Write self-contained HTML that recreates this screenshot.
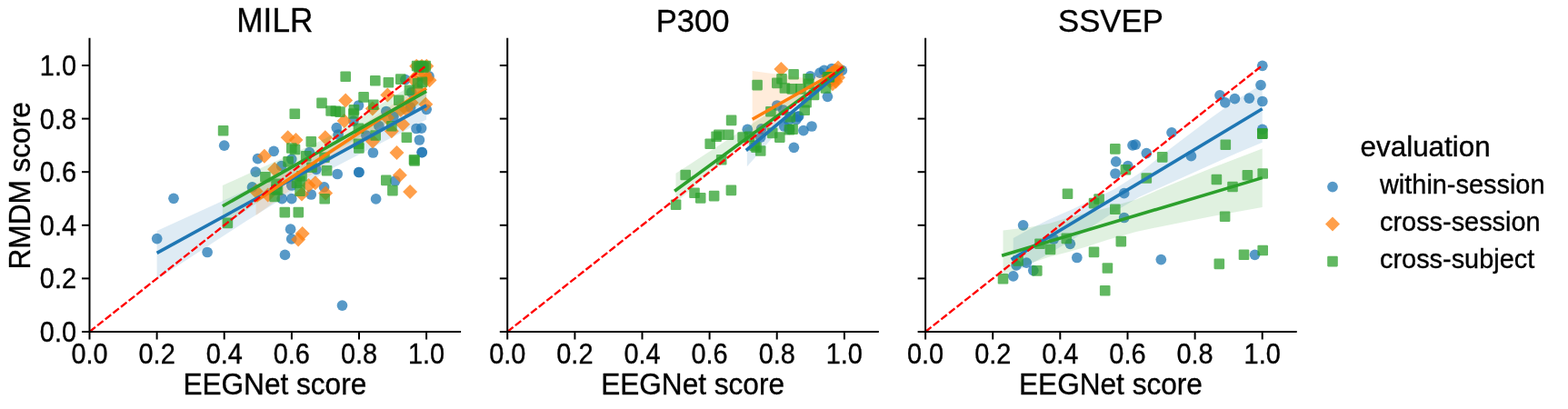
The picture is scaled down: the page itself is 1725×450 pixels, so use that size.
<!DOCTYPE html>
<html lang="en"><head><meta charset="utf-8"><title>RMDM vs EEGNet score</title>
<style>html,body{margin:0;padding:0;background:#fff}body{width:1725px;height:450px;overflow:hidden}svg{display:block}</style>
</head><body>
<svg width="1725" height="450" viewBox="0 0 1725 450" font-family='"Liberation Sans", sans-serif'>
<rect width="1725" height="450" fill="#fff"/>
<g>
<circle cx="172.7" cy="262.6" r="5.85" fill="#1f77b4" fill-opacity="0.75"/>
<circle cx="191.0" cy="218.3" r="5.85" fill="#1f77b4" fill-opacity="0.75"/>
<circle cx="228.1" cy="277.5" r="5.85" fill="#1f77b4" fill-opacity="0.75"/>
<circle cx="319.6" cy="252.2" r="5.85" fill="#1f77b4" fill-opacity="0.75"/>
<circle cx="320.7" cy="262.8" r="5.85" fill="#1f77b4" fill-opacity="0.75"/>
<circle cx="313.5" cy="280.4" r="5.85" fill="#1f77b4" fill-opacity="0.75"/>
<circle cx="376.5" cy="336.1" r="5.85" fill="#1f77b4" fill-opacity="0.75"/>
<circle cx="246.7" cy="160.2" r="5.85" fill="#1f77b4" fill-opacity="0.75"/>
<circle cx="301.2" cy="166.3" r="5.85" fill="#1f77b4" fill-opacity="0.75"/>
<circle cx="283.5" cy="174.7" r="5.85" fill="#1f77b4" fill-opacity="0.75"/>
<circle cx="281.2" cy="189.1" r="5.85" fill="#1f77b4" fill-opacity="0.75"/>
<circle cx="277.5" cy="205.9" r="5.85" fill="#1f77b4" fill-opacity="0.75"/>
<circle cx="370.3" cy="140.6" r="5.85" fill="#1f77b4" fill-opacity="0.75"/>
<circle cx="372.1" cy="148.0" r="5.85" fill="#1f77b4" fill-opacity="0.75"/>
<circle cx="410.4" cy="168.0" r="5.85" fill="#1f77b4" fill-opacity="0.75"/>
<circle cx="371.2" cy="191.5" r="5.85" fill="#1f77b4" fill-opacity="0.75"/>
<circle cx="394.9" cy="189.5" r="5.85" fill="#1f77b4" fill-opacity="0.75"/>
<circle cx="394.9" cy="189.5" r="5.85" fill="#1f77b4" fill-opacity="0.75"/>
<circle cx="356.6" cy="205.9" r="5.85" fill="#1f77b4" fill-opacity="0.75"/>
<circle cx="458.0" cy="141.5" r="5.85" fill="#1f77b4" fill-opacity="0.75"/>
<circle cx="463.6" cy="141.1" r="5.85" fill="#1f77b4" fill-opacity="0.75"/>
<circle cx="461.4" cy="154.0" r="5.85" fill="#1f77b4" fill-opacity="0.75"/>
<circle cx="464.2" cy="167.6" r="5.85" fill="#1f77b4" fill-opacity="0.75"/>
<circle cx="464.2" cy="167.6" r="5.85" fill="#1f77b4" fill-opacity="0.75"/>
<circle cx="434.7" cy="199.0" r="5.85" fill="#1f77b4" fill-opacity="0.75"/>
<circle cx="340.4" cy="167.6" r="5.85" fill="#1f77b4" fill-opacity="0.75"/>
<circle cx="320.8" cy="175.1" r="5.85" fill="#1f77b4" fill-opacity="0.75"/>
<circle cx="309.6" cy="182.6" r="5.85" fill="#1f77b4" fill-opacity="0.75"/>
<circle cx="347.9" cy="186.3" r="5.85" fill="#1f77b4" fill-opacity="0.75"/>
<circle cx="388.9" cy="133.1" r="5.85" fill="#1f77b4" fill-opacity="0.75"/>
<circle cx="416.9" cy="138.7" r="5.85" fill="#1f77b4" fill-opacity="0.75"/>
<circle cx="402.9" cy="149.0" r="5.85" fill="#1f77b4" fill-opacity="0.75"/>
<circle cx="320.8" cy="204.0" r="5.85" fill="#1f77b4" fill-opacity="0.75"/>
<circle cx="413.6" cy="218.9" r="5.85" fill="#1f77b4" fill-opacity="0.75"/>
<circle cx="342.3" cy="214.0" r="5.85" fill="#1f77b4" fill-opacity="0.75"/>
<circle cx="320.8" cy="218.7" r="5.85" fill="#1f77b4" fill-opacity="0.75"/>
<circle cx="310.2" cy="218.7" r="5.85" fill="#1f77b4" fill-opacity="0.75"/>
<circle cx="394.5" cy="116.0" r="5.85" fill="#1f77b4" fill-opacity="0.75"/>
<circle cx="445.9" cy="87.6" r="5.85" fill="#1f77b4" fill-opacity="0.75"/>
<circle cx="469.2" cy="120.3" r="5.85" fill="#1f77b4" fill-opacity="0.75"/>
<circle cx="424.9" cy="122.5" r="5.85" fill="#1f77b4" fill-opacity="0.75"/>
<circle cx="432.9" cy="128.4" r="5.85" fill="#1f77b4" fill-opacity="0.75"/>
<circle cx="451.6" cy="118.2" r="5.85" fill="#1f77b4" fill-opacity="0.75"/>
<circle cx="452.7" cy="101.7" r="5.85" fill="#1f77b4" fill-opacity="0.75"/>
<circle cx="472.0" cy="83.9" r="5.85" fill="#1f77b4" fill-opacity="0.75"/>
<path d="M172.6,254.0 L270.1,209.7 L357.9,167.2 L469.1,101.3 L469.1,131.5 L357.9,189.2 L270.1,243.7 L172.6,307.3Z" fill="#1f77b4" fill-opacity="0.15"/>
<path d="M328.1,255.6 L336.1,263.6 L328.1,271.6 L320.1,263.6Z" fill="#ff7f0e" fill-opacity="0.75"/>
<path d="M332.7,249.0 L340.7,257.0 L332.7,265.0 L324.7,257.0Z" fill="#ff7f0e" fill-opacity="0.75"/>
<path d="M380.2,102.4 L388.2,110.4 L380.2,118.4 L372.2,110.4Z" fill="#ff7f0e" fill-opacity="0.75"/>
<path d="M426.3,96.4 L434.3,104.4 L426.3,112.4 L418.3,104.4Z" fill="#ff7f0e" fill-opacity="0.75"/>
<path d="M409.8,111.4 L417.8,119.4 L409.8,127.4 L401.8,119.4Z" fill="#ff7f0e" fill-opacity="0.75"/>
<path d="M458.2,64.8 L466.2,72.8 L458.2,80.8 L450.2,72.8Z" fill="#ff7f0e" fill-opacity="0.75"/>
<path d="M469.3,64.8 L477.3,72.8 L469.3,80.8 L461.3,72.8Z" fill="#ff7f0e" fill-opacity="0.75"/>
<path d="M464.0,64.8 L472.0,72.8 L464.0,80.8 L456.0,72.8Z" fill="#ff7f0e" fill-opacity="0.75"/>
<path d="M460.5,74.3 L468.5,82.3 L460.5,90.3 L452.5,82.3Z" fill="#ff7f0e" fill-opacity="0.75"/>
<path d="M467.5,73.8 L475.5,81.8 L467.5,89.8 L459.5,81.8Z" fill="#ff7f0e" fill-opacity="0.75"/>
<path d="M472.5,80.3 L480.5,88.3 L472.5,96.3 L464.5,88.3Z" fill="#ff7f0e" fill-opacity="0.75"/>
<path d="M459.0,90.5 L467.0,98.5 L459.0,106.5 L451.0,98.5Z" fill="#ff7f0e" fill-opacity="0.75"/>
<path d="M469.2,79.6 L477.2,87.6 L469.2,95.6 L461.2,87.6Z" fill="#ff7f0e" fill-opacity="0.75"/>
<path d="M468.3,106.7 L476.3,114.7 L468.3,122.7 L460.3,114.7Z" fill="#ff7f0e" fill-opacity="0.75"/>
<path d="M455.0,79.6 L463.0,87.6 L455.0,95.6 L447.0,87.6Z" fill="#ff7f0e" fill-opacity="0.75"/>
<path d="M452.7,104.9 L460.7,112.9 L452.7,120.9 L444.7,112.9Z" fill="#ff7f0e" fill-opacity="0.75"/>
<path d="M446.8,112.3 L454.8,120.3 L446.8,128.3 L438.8,120.3Z" fill="#ff7f0e" fill-opacity="0.75"/>
<path d="M440.9,112.9 L448.9,120.9 L440.9,128.9 L432.9,120.9Z" fill="#ff7f0e" fill-opacity="0.75"/>
<path d="M426.0,121.4 L434.0,129.4 L426.0,137.4 L418.0,129.4Z" fill="#ff7f0e" fill-opacity="0.75"/>
<path d="M316.7,143.2 L324.7,151.2 L316.7,159.2 L308.7,151.2Z" fill="#ff7f0e" fill-opacity="0.75"/>
<path d="M325.5,146.0 L333.5,154.0 L325.5,162.0 L317.5,154.0Z" fill="#ff7f0e" fill-opacity="0.75"/>
<path d="M357.8,143.2 L365.8,151.2 L357.8,159.2 L349.8,151.2Z" fill="#ff7f0e" fill-opacity="0.75"/>
<path d="M378.7,125.1 L386.7,133.1 L378.7,141.1 L370.7,133.1Z" fill="#ff7f0e" fill-opacity="0.75"/>
<path d="M290.9,163.7 L298.9,171.7 L290.9,179.7 L282.9,171.7Z" fill="#ff7f0e" fill-opacity="0.75"/>
<path d="M302.1,178.3 L310.1,186.3 L302.1,194.3 L294.1,186.3Z" fill="#ff7f0e" fill-opacity="0.75"/>
<path d="M410.0,147.5 L418.0,155.5 L410.0,163.5 L402.0,155.5Z" fill="#ff7f0e" fill-opacity="0.75"/>
<path d="M430.9,136.3 L438.9,144.3 L430.9,152.3 L422.9,144.3Z" fill="#ff7f0e" fill-opacity="0.75"/>
<path d="M443.1,128.8 L451.1,136.8 L443.1,144.8 L435.1,136.8Z" fill="#ff7f0e" fill-opacity="0.75"/>
<path d="M436.5,160.0 L444.5,168.0 L436.5,176.0 L428.5,168.0Z" fill="#ff7f0e" fill-opacity="0.75"/>
<path d="M439.9,184.8 L447.9,192.8 L439.9,200.8 L431.9,192.8Z" fill="#ff7f0e" fill-opacity="0.75"/>
<path d="M451.1,202.9 L459.1,210.9 L451.1,218.9 L443.1,210.9Z" fill="#ff7f0e" fill-opacity="0.75"/>
<path d="M346.9,193.2 L354.9,201.2 L346.9,209.2 L338.9,201.2Z" fill="#ff7f0e" fill-opacity="0.75"/>
<path d="M339.5,196.0 L347.5,204.0 L339.5,212.0 L331.5,204.0Z" fill="#ff7f0e" fill-opacity="0.75"/>
<path d="M281.6,202.6 L289.6,210.6 L281.6,218.6 L273.6,210.6Z" fill="#ff7f0e" fill-opacity="0.75"/>
<path d="M358.1,204.4 L366.1,212.4 L358.1,220.4 L350.1,212.4Z" fill="#ff7f0e" fill-opacity="0.75"/>
<path d="M332.0,205.6 L340.0,213.6 L332.0,221.6 L324.0,213.6Z" fill="#ff7f0e" fill-opacity="0.75"/>
<path d="M294.7,206.6 L302.7,214.6 L294.7,222.6 L286.7,214.6Z" fill="#ff7f0e" fill-opacity="0.75"/>
<path d="M281.6,202.4 L376.5,152.6 L469.1,89.6 L469.1,108.6 L376.5,167.2 L281.6,237.0Z" fill="#ff7f0e" fill-opacity="0.15"/>
<rect x="318.5" y="119.4" width="11.6" height="11.6" rx="1.1" fill="#2ca02c" fill-opacity="0.75"/>
<rect x="348.2" y="107.6" width="11.6" height="11.6" rx="1.1" fill="#2ca02c" fill-opacity="0.75"/>
<rect x="374.4" y="78.5" width="11.6" height="11.6" rx="1.1" fill="#2ca02c" fill-opacity="0.75"/>
<rect x="358.3" y="116.2" width="11.6" height="11.6" rx="1.1" fill="#2ca02c" fill-opacity="0.75"/>
<rect x="363.5" y="116.6" width="11.6" height="11.6" rx="1.1" fill="#2ca02c" fill-opacity="0.75"/>
<rect x="368.2" y="117.3" width="11.6" height="11.6" rx="1.1" fill="#2ca02c" fill-opacity="0.75"/>
<rect x="383.7" y="115.1" width="11.6" height="11.6" rx="1.1" fill="#2ca02c" fill-opacity="0.75"/>
<rect x="383.1" y="119.2" width="11.6" height="11.6" rx="1.1" fill="#2ca02c" fill-opacity="0.75"/>
<rect x="388.7" y="135.5" width="11.6" height="11.6" rx="1.1" fill="#2ca02c" fill-opacity="0.75"/>
<rect x="394.3" y="101.1" width="11.6" height="11.6" rx="1.1" fill="#2ca02c" fill-opacity="0.75"/>
<rect x="405.0" y="109.5" width="11.6" height="11.6" rx="1.1" fill="#2ca02c" fill-opacity="0.75"/>
<rect x="407.0" y="83.0" width="11.6" height="11.6" rx="1.1" fill="#2ca02c" fill-opacity="0.75"/>
<rect x="421.6" y="85.0" width="11.6" height="11.6" rx="1.1" fill="#2ca02c" fill-opacity="0.75"/>
<rect x="435.0" y="81.3" width="11.6" height="11.6" rx="1.1" fill="#2ca02c" fill-opacity="0.75"/>
<rect x="433.0" y="104.5" width="11.6" height="11.6" rx="1.1" fill="#2ca02c" fill-opacity="0.75"/>
<rect x="444.7" y="93.4" width="11.6" height="11.6" rx="1.1" fill="#2ca02c" fill-opacity="0.75"/>
<rect x="452.8" y="66.8" width="11.6" height="11.6" rx="1.1" fill="#2ca02c" fill-opacity="0.75"/>
<rect x="455.2" y="68.3" width="11.6" height="11.6" rx="1.1" fill="#2ca02c" fill-opacity="0.75"/>
<rect x="457.8" y="66.8" width="11.6" height="11.6" rx="1.1" fill="#2ca02c" fill-opacity="0.75"/>
<rect x="460.2" y="68.3" width="11.6" height="11.6" rx="1.1" fill="#2ca02c" fill-opacity="0.75"/>
<rect x="462.5" y="66.8" width="11.6" height="11.6" rx="1.1" fill="#2ca02c" fill-opacity="0.75"/>
<rect x="453.7" y="85.9" width="11.6" height="11.6" rx="1.1" fill="#2ca02c" fill-opacity="0.75"/>
<rect x="458.7" y="84.6" width="11.6" height="11.6" rx="1.1" fill="#2ca02c" fill-opacity="0.75"/>
<rect x="239.8" y="137.9" width="11.6" height="11.6" rx="1.1" fill="#2ca02c" fill-opacity="0.75"/>
<rect x="336.5" y="150.1" width="11.6" height="11.6" rx="1.1" fill="#2ca02c" fill-opacity="0.75"/>
<rect x="315.0" y="157.2" width="11.6" height="11.6" rx="1.1" fill="#2ca02c" fill-opacity="0.75"/>
<rect x="318.7" y="158.7" width="11.6" height="11.6" rx="1.1" fill="#2ca02c" fill-opacity="0.75"/>
<rect x="330.9" y="165.9" width="11.6" height="11.6" rx="1.1" fill="#2ca02c" fill-opacity="0.75"/>
<rect x="311.3" y="172.1" width="11.6" height="11.6" rx="1.1" fill="#2ca02c" fill-opacity="0.75"/>
<rect x="353.8" y="182.0" width="11.6" height="11.6" rx="1.1" fill="#2ca02c" fill-opacity="0.75"/>
<rect x="286.1" y="188.9" width="11.6" height="11.6" rx="1.1" fill="#2ca02c" fill-opacity="0.75"/>
<rect x="389.1" y="157.2" width="11.6" height="11.6" rx="1.1" fill="#2ca02c" fill-opacity="0.75"/>
<rect x="388.7" y="152.5" width="11.6" height="11.6" rx="1.1" fill="#2ca02c" fill-opacity="0.75"/>
<rect x="407.4" y="143.2" width="11.6" height="11.6" rx="1.1" fill="#2ca02c" fill-opacity="0.75"/>
<rect x="441.6" y="145.4" width="11.6" height="11.6" rx="1.1" fill="#2ca02c" fill-opacity="0.75"/>
<rect x="450.3" y="171.2" width="11.6" height="11.6" rx="1.1" fill="#2ca02c" fill-opacity="0.75"/>
<rect x="449.7" y="170.0" width="11.6" height="11.6" rx="1.1" fill="#2ca02c" fill-opacity="0.75"/>
<rect x="419.0" y="192.6" width="11.6" height="11.6" rx="1.1" fill="#2ca02c" fill-opacity="0.75"/>
<rect x="426.1" y="203.8" width="11.6" height="11.6" rx="1.1" fill="#2ca02c" fill-opacity="0.75"/>
<rect x="425.1" y="132.9" width="11.6" height="11.6" rx="1.1" fill="#2ca02c" fill-opacity="0.75"/>
<rect x="324.2" y="193.5" width="11.6" height="11.6" rx="1.1" fill="#2ca02c" fill-opacity="0.75"/>
<rect x="320.7" y="195.5" width="11.6" height="11.6" rx="1.1" fill="#2ca02c" fill-opacity="0.75"/>
<rect x="326.2" y="188.0" width="11.6" height="11.6" rx="1.1" fill="#2ca02c" fill-opacity="0.75"/>
<rect x="298.2" y="203.0" width="11.6" height="11.6" rx="1.1" fill="#2ca02c" fill-opacity="0.75"/>
<rect x="324.2" y="204.5" width="11.6" height="11.6" rx="1.1" fill="#2ca02c" fill-opacity="0.75"/>
<rect x="244.6" y="239.6" width="11.6" height="11.6" rx="1.1" fill="#2ca02c" fill-opacity="0.75"/>
<rect x="307.5" y="227.8" width="11.6" height="11.6" rx="1.1" fill="#2ca02c" fill-opacity="0.75"/>
<rect x="322.5" y="227.8" width="11.6" height="11.6" rx="1.1" fill="#2ca02c" fill-opacity="0.75"/>
<rect x="351.4" y="212.9" width="11.6" height="11.6" rx="1.1" fill="#2ca02c" fill-opacity="0.75"/>
<rect x="296.3" y="210.6" width="11.6" height="11.6" rx="1.1" fill="#2ca02c" fill-opacity="0.75"/>
<rect x="299.7" y="203.0" width="11.6" height="11.6" rx="1.1" fill="#2ca02c" fill-opacity="0.75"/>
<rect x="298.2" y="196.5" width="11.6" height="11.6" rx="1.1" fill="#2ca02c" fill-opacity="0.75"/>
<rect x="337.2" y="178.5" width="11.6" height="11.6" rx="1.1" fill="#2ca02c" fill-opacity="0.75"/>
<rect x="351.2" y="167.5" width="11.6" height="11.6" rx="1.1" fill="#2ca02c" fill-opacity="0.75"/>
<path d="M244.9,204.1 L357.9,152.6 L469.1,83.7 L469.1,111.6 L357.9,171.6 L244.9,249.3Z" fill="#2ca02c" fill-opacity="0.15"/>
<line x1="172.6" y1="278.3" x2="469.1" y2="116.2" stroke="#1f77b4" stroke-width="3.6" stroke-linecap="butt"/>
<line x1="281.6" y1="221.1" x2="469.1" y2="97.2" stroke="#ff7f0e" stroke-width="3.6" stroke-linecap="butt"/>
<line x1="244.9" y1="226.7" x2="469.1" y2="100.4" stroke="#2ca02c" stroke-width="3.6" stroke-linecap="butt"/>
<line x1="98.5" y1="365.0" x2="469.1" y2="72.0" stroke="#ff0000" stroke-width="2.35" stroke-dasharray="8.2,2.8"/>
<path d="M98.5,41.8 V365.0 H507.1" fill="none" stroke="#000" stroke-width="2.0" stroke-linecap="butt" stroke-linejoin="miter"/>
<line x1="98.5" y1="365.0" x2="98.5" y2="373.5" stroke="#000" stroke-width="2.0"/>
<line x1="98.5" y1="365.0" x2="90.0" y2="365.0" stroke="#000" stroke-width="2.0"/>
<text transform="translate(98.50,400.40) scale(1.0,1.075)" font-size="28.9" text-anchor="middle" stroke="#000" stroke-width="0.35">0.0</text>
<text transform="translate(84.00,376.00) scale(1.0,1.075)" font-size="28.9" text-anchor="end" stroke="#000" stroke-width="0.35">0.0</text>
<line x1="172.6" y1="365.0" x2="172.6" y2="373.5" stroke="#000" stroke-width="2.0"/>
<line x1="98.5" y1="306.4" x2="90.0" y2="306.4" stroke="#000" stroke-width="2.0"/>
<text transform="translate(172.62,400.40) scale(1.0,1.075)" font-size="28.9" text-anchor="middle" stroke="#000" stroke-width="0.35">0.2</text>
<text transform="translate(84.00,317.40) scale(1.0,1.075)" font-size="28.9" text-anchor="end" stroke="#000" stroke-width="0.35">0.2</text>
<line x1="246.7" y1="365.0" x2="246.7" y2="373.5" stroke="#000" stroke-width="2.0"/>
<line x1="98.5" y1="247.8" x2="90.0" y2="247.8" stroke="#000" stroke-width="2.0"/>
<text transform="translate(246.74,400.40) scale(1.0,1.075)" font-size="28.9" text-anchor="middle" stroke="#000" stroke-width="0.35">0.4</text>
<text transform="translate(84.00,258.80) scale(1.0,1.075)" font-size="28.9" text-anchor="end" stroke="#000" stroke-width="0.35">0.4</text>
<line x1="320.9" y1="365.0" x2="320.9" y2="373.5" stroke="#000" stroke-width="2.0"/>
<line x1="98.5" y1="189.2" x2="90.0" y2="189.2" stroke="#000" stroke-width="2.0"/>
<text transform="translate(320.86,400.40) scale(1.0,1.075)" font-size="28.9" text-anchor="middle" stroke="#000" stroke-width="0.35">0.6</text>
<text transform="translate(84.00,200.20) scale(1.0,1.075)" font-size="28.9" text-anchor="end" stroke="#000" stroke-width="0.35">0.6</text>
<line x1="395.0" y1="365.0" x2="395.0" y2="373.5" stroke="#000" stroke-width="2.0"/>
<line x1="98.5" y1="130.6" x2="90.0" y2="130.6" stroke="#000" stroke-width="2.0"/>
<text transform="translate(394.98,400.40) scale(1.0,1.075)" font-size="28.9" text-anchor="middle" stroke="#000" stroke-width="0.35">0.8</text>
<text transform="translate(84.00,141.60) scale(1.0,1.075)" font-size="28.9" text-anchor="end" stroke="#000" stroke-width="0.35">0.8</text>
<line x1="469.1" y1="365.0" x2="469.1" y2="373.5" stroke="#000" stroke-width="2.0"/>
<line x1="98.5" y1="72.0" x2="90.0" y2="72.0" stroke="#000" stroke-width="2.0"/>
<text transform="translate(469.10,400.40) scale(1.0,1.075)" font-size="28.9" text-anchor="middle" stroke="#000" stroke-width="0.35">1.0</text>
<text transform="translate(84.00,83.00) scale(1.0,1.075)" font-size="28.9" text-anchor="end" stroke="#000" stroke-width="0.35">1.0</text>
<text transform="translate(302.33,434.00) scale(1.0,1.04)" font-size="31.6" text-anchor="middle" stroke="#000" stroke-width="0.35">EEGNet score</text>
<text transform="translate(302.33,34.50) scale(1.0,1.025)" font-size="35.2" text-anchor="middle" stroke="#000" stroke-width="0.35">MILR</text>
</g>
<g>
<circle cx="891.4" cy="83.9" r="5.85" fill="#1f77b4" fill-opacity="0.75"/>
<circle cx="910.4" cy="106.3" r="5.85" fill="#1f77b4" fill-opacity="0.75"/>
<circle cx="854.8" cy="116.0" r="5.85" fill="#1f77b4" fill-opacity="0.75"/>
<circle cx="861.9" cy="121.2" r="5.85" fill="#1f77b4" fill-opacity="0.75"/>
<circle cx="878.7" cy="127.8" r="5.85" fill="#1f77b4" fill-opacity="0.75"/>
<circle cx="902.0" cy="80.2" r="5.85" fill="#1f77b4" fill-opacity="0.75"/>
<circle cx="906.7" cy="77.4" r="5.85" fill="#1f77b4" fill-opacity="0.75"/>
<circle cx="915.1" cy="75.5" r="5.85" fill="#1f77b4" fill-opacity="0.75"/>
<circle cx="926.3" cy="77.4" r="5.85" fill="#1f77b4" fill-opacity="0.75"/>
<circle cx="822.3" cy="142.3" r="5.85" fill="#1f77b4" fill-opacity="0.75"/>
<circle cx="873.4" cy="162.3" r="5.85" fill="#1f77b4" fill-opacity="0.75"/>
<circle cx="883.9" cy="143.6" r="5.85" fill="#1f77b4" fill-opacity="0.75"/>
<circle cx="893.0" cy="139.0" r="5.85" fill="#1f77b4" fill-opacity="0.75"/>
<circle cx="862.8" cy="139.0" r="5.85" fill="#1f77b4" fill-opacity="0.75"/>
<circle cx="868.4" cy="142.3" r="5.85" fill="#1f77b4" fill-opacity="0.75"/>
<circle cx="837.6" cy="141.8" r="5.85" fill="#1f77b4" fill-opacity="0.75"/>
<circle cx="836.7" cy="151.1" r="5.85" fill="#1f77b4" fill-opacity="0.75"/>
<circle cx="877.7" cy="128.7" r="5.85" fill="#1f77b4" fill-opacity="0.75"/>
<circle cx="867.5" cy="132.4" r="5.85" fill="#1f77b4" fill-opacity="0.75"/>
<circle cx="875.9" cy="131.5" r="5.85" fill="#1f77b4" fill-opacity="0.75"/>
<path d="M821.9,148.2 L873.3,116.0 L928.3,73.5 L928.3,79.3 L873.3,124.7 L821.9,183.3Z" fill="#1f77b4" fill-opacity="0.15"/>
<path d="M859.4,67.9 L867.4,75.9 L859.4,83.9 L851.4,75.9Z" fill="#ff7f0e" fill-opacity="0.75"/>
<path d="M922.0,66.5 L930.0,74.5 L922.0,82.5 L914.0,74.5Z" fill="#ff7f0e" fill-opacity="0.75"/>
<path d="M918.5,69.8 L926.5,77.8 L918.5,85.8 L910.5,77.8Z" fill="#ff7f0e" fill-opacity="0.75"/>
<path d="M915.0,72.3 L923.0,80.3 L915.0,88.3 L907.0,80.3Z" fill="#ff7f0e" fill-opacity="0.75"/>
<path d="M911.5,75.3 L919.5,83.3 L911.5,91.3 L903.5,83.3Z" fill="#ff7f0e" fill-opacity="0.75"/>
<path d="M920.0,73.3 L928.0,81.3 L920.0,89.3 L912.0,81.3Z" fill="#ff7f0e" fill-opacity="0.75"/>
<path d="M922.0,77.3 L930.0,85.3 L922.0,93.3 L914.0,85.3Z" fill="#ff7f0e" fill-opacity="0.75"/>
<path d="M918.0,78.3 L926.0,86.3 L918.0,94.3 L910.0,86.3Z" fill="#ff7f0e" fill-opacity="0.75"/>
<path d="M914.5,80.3 L922.5,88.3 L914.5,96.3 L906.5,88.3Z" fill="#ff7f0e" fill-opacity="0.75"/>
<path d="M919.5,81.8 L927.5,89.8 L919.5,97.8 L911.5,89.8Z" fill="#ff7f0e" fill-opacity="0.75"/>
<path d="M916.0,84.3 L924.0,92.3 L916.0,100.3 L908.0,92.3Z" fill="#ff7f0e" fill-opacity="0.75"/>
<path d="M921.0,70.3 L929.0,78.3 L921.0,86.3 L913.0,78.3Z" fill="#ff7f0e" fill-opacity="0.75"/>
<path d="M827.7,77.9 L891.8,86.7 L928.3,72.0 L928.3,77.9 L891.8,98.4 L827.7,159.9Z" fill="#ff7f0e" fill-opacity="0.15"/>
<rect x="827.3" y="87.8" width="11.6" height="11.6" rx="1.1" fill="#2ca02c" fill-opacity="0.75"/>
<rect x="867.3" y="75.9" width="11.6" height="11.6" rx="1.1" fill="#2ca02c" fill-opacity="0.75"/>
<rect x="854.2" y="80.9" width="11.6" height="11.6" rx="1.1" fill="#2ca02c" fill-opacity="0.75"/>
<rect x="849.0" y="85.6" width="11.6" height="11.6" rx="1.1" fill="#2ca02c" fill-opacity="0.75"/>
<rect x="857.6" y="91.2" width="11.6" height="11.6" rx="1.1" fill="#2ca02c" fill-opacity="0.75"/>
<rect x="865.4" y="92.1" width="11.6" height="11.6" rx="1.1" fill="#2ca02c" fill-opacity="0.75"/>
<rect x="875.1" y="92.1" width="11.6" height="11.6" rx="1.1" fill="#2ca02c" fill-opacity="0.75"/>
<rect x="883.1" y="80.9" width="11.6" height="11.6" rx="1.1" fill="#2ca02c" fill-opacity="0.75"/>
<rect x="884.1" y="86.5" width="11.6" height="11.6" rx="1.1" fill="#2ca02c" fill-opacity="0.75"/>
<rect x="904.6" y="79.0" width="11.6" height="11.6" rx="1.1" fill="#2ca02c" fill-opacity="0.75"/>
<rect x="902.7" y="91.2" width="11.6" height="11.6" rx="1.1" fill="#2ca02c" fill-opacity="0.75"/>
<rect x="889.7" y="98.6" width="11.6" height="11.6" rx="1.1" fill="#2ca02c" fill-opacity="0.75"/>
<rect x="842.1" y="116.9" width="11.6" height="11.6" rx="1.1" fill="#2ca02c" fill-opacity="0.75"/>
<rect x="798.8" y="126.6" width="11.6" height="11.6" rx="1.1" fill="#2ca02c" fill-opacity="0.75"/>
<rect x="879.4" y="115.4" width="11.6" height="11.6" rx="1.1" fill="#2ca02c" fill-opacity="0.75"/>
<rect x="881.3" y="107.0" width="11.6" height="11.6" rx="1.1" fill="#2ca02c" fill-opacity="0.75"/>
<rect x="863.5" y="122.9" width="11.6" height="11.6" rx="1.1" fill="#2ca02c" fill-opacity="0.75"/>
<rect x="782.3" y="144.4" width="11.6" height="11.6" rx="1.1" fill="#2ca02c" fill-opacity="0.75"/>
<rect x="785.1" y="142.5" width="11.6" height="11.6" rx="1.1" fill="#2ca02c" fill-opacity="0.75"/>
<rect x="795.8" y="142.5" width="11.6" height="11.6" rx="1.1" fill="#2ca02c" fill-opacity="0.75"/>
<rect x="775.4" y="152.4" width="11.6" height="11.6" rx="1.1" fill="#2ca02c" fill-opacity="0.75"/>
<rect x="787.9" y="169.9" width="11.6" height="11.6" rx="1.1" fill="#2ca02c" fill-opacity="0.75"/>
<rect x="748.4" y="186.7" width="11.6" height="11.6" rx="1.1" fill="#2ca02c" fill-opacity="0.75"/>
<rect x="811.3" y="145.3" width="11.6" height="11.6" rx="1.1" fill="#2ca02c" fill-opacity="0.75"/>
<rect x="818.7" y="144.4" width="11.6" height="11.6" rx="1.1" fill="#2ca02c" fill-opacity="0.75"/>
<rect x="824.3" y="154.6" width="11.6" height="11.6" rx="1.1" fill="#2ca02c" fill-opacity="0.75"/>
<rect x="830.9" y="160.2" width="11.6" height="11.6" rx="1.1" fill="#2ca02c" fill-opacity="0.75"/>
<rect x="826.2" y="156.5" width="11.6" height="11.6" rx="1.1" fill="#2ca02c" fill-opacity="0.75"/>
<rect x="843.9" y="140.6" width="11.6" height="11.6" rx="1.1" fill="#2ca02c" fill-opacity="0.75"/>
<rect x="852.0" y="145.3" width="11.6" height="11.6" rx="1.1" fill="#2ca02c" fill-opacity="0.75"/>
<rect x="866.3" y="136.5" width="11.6" height="11.6" rx="1.1" fill="#2ca02c" fill-opacity="0.75"/>
<rect x="862.6" y="136.9" width="11.6" height="11.6" rx="1.1" fill="#2ca02c" fill-opacity="0.75"/>
<rect x="758.2" y="206.5" width="11.6" height="11.6" rx="1.1" fill="#2ca02c" fill-opacity="0.75"/>
<rect x="764.9" y="212.1" width="11.6" height="11.6" rx="1.1" fill="#2ca02c" fill-opacity="0.75"/>
<rect x="779.8" y="209.8" width="11.6" height="11.6" rx="1.1" fill="#2ca02c" fill-opacity="0.75"/>
<rect x="798.6" y="203.6" width="11.6" height="11.6" rx="1.1" fill="#2ca02c" fill-opacity="0.75"/>
<rect x="737.8" y="219.4" width="11.6" height="11.6" rx="1.1" fill="#2ca02c" fill-opacity="0.75"/>
<rect x="906.5" y="78.9" width="11.6" height="11.6" rx="1.1" fill="#2ca02c" fill-opacity="0.75"/>
<rect x="906.5" y="78.9" width="11.6" height="11.6" rx="1.1" fill="#2ca02c" fill-opacity="0.75"/>
<path d="M743.5,190.7 L836.2,130.6 L928.3,72.0 L928.3,77.9 L836.2,142.3 L743.5,222.9Z" fill="#2ca02c" fill-opacity="0.15"/>
<line x1="820.8" y1="165.5" x2="928.3" y2="75.8" stroke="#1f77b4" stroke-width="3.6" stroke-linecap="butt"/>
<line x1="827.7" y1="131.2" x2="928.3" y2="74.3" stroke="#ff7f0e" stroke-width="3.6" stroke-linecap="butt"/>
<line x1="742.1" y1="210.3" x2="928.3" y2="74.1" stroke="#2ca02c" stroke-width="3.6" stroke-linecap="butt"/>
<line x1="558.2" y1="365.0" x2="928.9" y2="72.0" stroke="#ff0000" stroke-width="2.35" stroke-dasharray="8.2,2.8"/>
<path d="M558.2,41.8 V365.0 H966.8" fill="none" stroke="#000" stroke-width="2.0" stroke-linecap="butt" stroke-linejoin="miter"/>
<line x1="558.2" y1="365.0" x2="558.2" y2="373.5" stroke="#000" stroke-width="2.0"/>
<line x1="558.2" y1="365.0" x2="549.8" y2="365.0" stroke="#000" stroke-width="2.0"/>
<text transform="translate(558.25,400.40) scale(1.0,1.075)" font-size="28.9" text-anchor="middle" stroke="#000" stroke-width="0.35">0.0</text>
<line x1="632.4" y1="365.0" x2="632.4" y2="373.5" stroke="#000" stroke-width="2.0"/>
<line x1="558.2" y1="306.4" x2="549.8" y2="306.4" stroke="#000" stroke-width="2.0"/>
<text transform="translate(632.37,400.40) scale(1.0,1.075)" font-size="28.9" text-anchor="middle" stroke="#000" stroke-width="0.35">0.2</text>
<line x1="706.5" y1="365.0" x2="706.5" y2="373.5" stroke="#000" stroke-width="2.0"/>
<line x1="558.2" y1="247.8" x2="549.8" y2="247.8" stroke="#000" stroke-width="2.0"/>
<text transform="translate(706.49,400.40) scale(1.0,1.075)" font-size="28.9" text-anchor="middle" stroke="#000" stroke-width="0.35">0.4</text>
<line x1="780.6" y1="365.0" x2="780.6" y2="373.5" stroke="#000" stroke-width="2.0"/>
<line x1="558.2" y1="189.2" x2="549.8" y2="189.2" stroke="#000" stroke-width="2.0"/>
<text transform="translate(780.61,400.40) scale(1.0,1.075)" font-size="28.9" text-anchor="middle" stroke="#000" stroke-width="0.35">0.6</text>
<line x1="854.7" y1="365.0" x2="854.7" y2="373.5" stroke="#000" stroke-width="2.0"/>
<line x1="558.2" y1="130.6" x2="549.8" y2="130.6" stroke="#000" stroke-width="2.0"/>
<text transform="translate(854.73,400.40) scale(1.0,1.075)" font-size="28.9" text-anchor="middle" stroke="#000" stroke-width="0.35">0.8</text>
<line x1="928.9" y1="365.0" x2="928.9" y2="373.5" stroke="#000" stroke-width="2.0"/>
<line x1="558.2" y1="72.0" x2="549.8" y2="72.0" stroke="#000" stroke-width="2.0"/>
<text transform="translate(928.85,400.40) scale(1.0,1.075)" font-size="28.9" text-anchor="middle" stroke="#000" stroke-width="0.35">1.0</text>
<text transform="translate(762.08,434.00) scale(1.0,1.04)" font-size="31.6" text-anchor="middle" stroke="#000" stroke-width="0.35">EEGNet score</text>
<text transform="translate(762.08,34.50) scale(1.0,1.025)" font-size="34.6" text-anchor="middle" stroke="#000" stroke-width="0.35">P300</text>
</g>
<g>
<circle cx="1388.8" cy="72.3" r="5.85" fill="#1f77b4" fill-opacity="0.75"/>
<circle cx="1387.0" cy="93.6" r="5.85" fill="#1f77b4" fill-opacity="0.75"/>
<circle cx="1388.8" cy="111.5" r="5.85" fill="#1f77b4" fill-opacity="0.75"/>
<circle cx="1374.3" cy="108.2" r="5.85" fill="#1f77b4" fill-opacity="0.75"/>
<circle cx="1358.4" cy="108.7" r="5.85" fill="#1f77b4" fill-opacity="0.75"/>
<circle cx="1347.8" cy="112.8" r="5.85" fill="#1f77b4" fill-opacity="0.75"/>
<circle cx="1342.0" cy="104.8" r="5.85" fill="#1f77b4" fill-opacity="0.75"/>
<circle cx="1289.0" cy="145.8" r="5.85" fill="#1f77b4" fill-opacity="0.75"/>
<circle cx="1246.0" cy="159.8" r="5.85" fill="#1f77b4" fill-opacity="0.75"/>
<circle cx="1249.2" cy="159.2" r="5.85" fill="#1f77b4" fill-opacity="0.75"/>
<circle cx="1261.3" cy="168.6" r="5.85" fill="#1f77b4" fill-opacity="0.75"/>
<circle cx="1227.7" cy="177.9" r="5.85" fill="#1f77b4" fill-opacity="0.75"/>
<circle cx="1240.8" cy="182.6" r="5.85" fill="#1f77b4" fill-opacity="0.75"/>
<circle cx="1227.0" cy="191.0" r="5.85" fill="#1f77b4" fill-opacity="0.75"/>
<circle cx="1310.4" cy="171.7" r="5.85" fill="#1f77b4" fill-opacity="0.75"/>
<circle cx="1388.8" cy="142.4" r="5.85" fill="#1f77b4" fill-opacity="0.75"/>
<circle cx="1236.7" cy="212.7" r="5.85" fill="#1f77b4" fill-opacity="0.75"/>
<circle cx="1236.7" cy="239.5" r="5.85" fill="#1f77b4" fill-opacity="0.75"/>
<circle cx="1125.6" cy="247.8" r="5.85" fill="#1f77b4" fill-opacity="0.75"/>
<circle cx="1114.7" cy="303.8" r="5.85" fill="#1f77b4" fill-opacity="0.75"/>
<circle cx="1118.1" cy="291.8" r="5.85" fill="#1f77b4" fill-opacity="0.75"/>
<circle cx="1129.3" cy="289.1" r="5.85" fill="#1f77b4" fill-opacity="0.75"/>
<circle cx="1136.8" cy="297.6" r="5.85" fill="#1f77b4" fill-opacity="0.75"/>
<circle cx="1159.2" cy="263.0" r="5.85" fill="#1f77b4" fill-opacity="0.75"/>
<circle cx="1177.3" cy="268.3" r="5.85" fill="#1f77b4" fill-opacity="0.75"/>
<circle cx="1184.8" cy="283.5" r="5.85" fill="#1f77b4" fill-opacity="0.75"/>
<circle cx="1277.3" cy="285.6" r="5.85" fill="#1f77b4" fill-opacity="0.75"/>
<circle cx="1380.5" cy="280.3" r="5.85" fill="#1f77b4" fill-opacity="0.75"/>
<path d="M1114.7,261.9 L1132.7,252.2 L1154.0,241.6 L1179.6,230.2 L1200.0,220.8 L1226.7,207.7 L1253.3,190.7 L1280.0,169.3 L1306.7,149.1 L1333.3,129.1 L1360.0,110.1 L1388.7,92.5 L1388.7,156.7 L1360.0,168.7 L1333.3,180.7 L1306.7,192.7 L1280.0,204.7 L1253.3,216.7 L1226.7,232.6 L1200.0,250.1 L1179.6,263.9 L1154.0,278.9 L1132.7,291.2 L1114.7,300.0Z" fill="#1f77b4" fill-opacity="0.15"/>
<rect x="1221.0" y="158.1" width="11.6" height="11.6" rx="1.1" fill="#2ca02c" fill-opacity="0.75"/>
<rect x="1232.6" y="180.9" width="11.6" height="11.6" rx="1.1" fill="#2ca02c" fill-opacity="0.75"/>
<rect x="1272.9" y="167.1" width="11.6" height="11.6" rx="1.1" fill="#2ca02c" fill-opacity="0.75"/>
<rect x="1255.5" y="190.2" width="11.6" height="11.6" rx="1.1" fill="#2ca02c" fill-opacity="0.75"/>
<rect x="1342.5" y="153.4" width="11.6" height="11.6" rx="1.1" fill="#2ca02c" fill-opacity="0.75"/>
<rect x="1383.0" y="141.3" width="11.6" height="11.6" rx="1.1" fill="#2ca02c" fill-opacity="0.75"/>
<rect x="1383.0" y="141.3" width="11.6" height="11.6" rx="1.1" fill="#2ca02c" fill-opacity="0.75"/>
<rect x="1332.6" y="191.7" width="11.6" height="11.6" rx="1.1" fill="#2ca02c" fill-opacity="0.75"/>
<rect x="1350.2" y="199.7" width="11.6" height="11.6" rx="1.1" fill="#2ca02c" fill-opacity="0.75"/>
<rect x="1366.6" y="187.0" width="11.6" height="11.6" rx="1.1" fill="#2ca02c" fill-opacity="0.75"/>
<rect x="1383.4" y="185.2" width="11.6" height="11.6" rx="1.1" fill="#2ca02c" fill-opacity="0.75"/>
<rect x="1168.7" y="207.5" width="11.6" height="11.6" rx="1.1" fill="#2ca02c" fill-opacity="0.75"/>
<rect x="1203.3" y="213.2" width="11.6" height="11.6" rx="1.1" fill="#2ca02c" fill-opacity="0.75"/>
<rect x="1197.7" y="217.8" width="11.6" height="11.6" rx="1.1" fill="#2ca02c" fill-opacity="0.75"/>
<rect x="1221.0" y="224.4" width="11.6" height="11.6" rx="1.1" fill="#2ca02c" fill-opacity="0.75"/>
<rect x="1341.8" y="232.4" width="11.6" height="11.6" rx="1.1" fill="#2ca02c" fill-opacity="0.75"/>
<rect x="1097.7" y="300.9" width="11.6" height="11.6" rx="1.1" fill="#2ca02c" fill-opacity="0.75"/>
<rect x="1114.2" y="281.2" width="11.6" height="11.6" rx="1.1" fill="#2ca02c" fill-opacity="0.75"/>
<rect x="1135.0" y="292.1" width="11.6" height="11.6" rx="1.1" fill="#2ca02c" fill-opacity="0.75"/>
<rect x="1138.2" y="262.5" width="11.6" height="11.6" rx="1.1" fill="#2ca02c" fill-opacity="0.75"/>
<rect x="1149.7" y="268.6" width="11.6" height="11.6" rx="1.1" fill="#2ca02c" fill-opacity="0.75"/>
<rect x="1167.5" y="256.6" width="11.6" height="11.6" rx="1.1" fill="#2ca02c" fill-opacity="0.75"/>
<rect x="1197.7" y="271.6" width="11.6" height="11.6" rx="1.1" fill="#2ca02c" fill-opacity="0.75"/>
<rect x="1212.6" y="289.2" width="11.6" height="11.6" rx="1.1" fill="#2ca02c" fill-opacity="0.75"/>
<rect x="1209.9" y="314.0" width="11.6" height="11.6" rx="1.1" fill="#2ca02c" fill-opacity="0.75"/>
<rect x="1227.5" y="259.8" width="11.6" height="11.6" rx="1.1" fill="#2ca02c" fill-opacity="0.75"/>
<rect x="1335.5" y="284.6" width="11.6" height="11.6" rx="1.1" fill="#2ca02c" fill-opacity="0.75"/>
<rect x="1362.7" y="274.5" width="11.6" height="11.6" rx="1.1" fill="#2ca02c" fill-opacity="0.75"/>
<rect x="1383.4" y="269.7" width="11.6" height="11.6" rx="1.1" fill="#2ca02c" fill-opacity="0.75"/>
<path d="M1103.5,253.4 L1132.7,250.1 L1154.0,245.9 L1175.3,239.5 L1196.7,234.1 L1218.0,228.8 L1249.9,219.4 L1280.0,206.5 L1333.3,184.7 L1388.7,163.4 L1388.7,227.9 L1333.3,238.0 L1280.0,248.7 L1249.9,255.0 L1218.0,264.0 L1196.7,270.9 L1175.3,277.2 L1154.0,282.7 L1132.7,290.1 L1103.5,302.7Z" fill="#2ca02c" fill-opacity="0.15"/>
<line x1="1112.6" y1="285.6" x2="1388.7" y2="119.8" stroke="#1f77b4" stroke-width="3.6" stroke-linecap="butt"/>
<line x1="1102.1" y1="281.2" x2="1388.7" y2="195.6" stroke="#2ca02c" stroke-width="3.6" stroke-linecap="butt"/>
<line x1="1018.1" y1="365.0" x2="1388.7" y2="72.0" stroke="#ff0000" stroke-width="2.35" stroke-dasharray="8.2,2.8"/>
<path d="M1018.1,41.8 V365.0 H1426.7" fill="none" stroke="#000" stroke-width="2.0" stroke-linecap="butt" stroke-linejoin="miter"/>
<line x1="1018.1" y1="365.0" x2="1018.1" y2="373.5" stroke="#000" stroke-width="2.0"/>
<line x1="1018.1" y1="365.0" x2="1009.6" y2="365.0" stroke="#000" stroke-width="2.0"/>
<text transform="translate(1018.10,400.40) scale(1.0,1.075)" font-size="28.9" text-anchor="middle" stroke="#000" stroke-width="0.35">0.0</text>
<line x1="1092.2" y1="365.0" x2="1092.2" y2="373.5" stroke="#000" stroke-width="2.0"/>
<line x1="1018.1" y1="306.4" x2="1009.6" y2="306.4" stroke="#000" stroke-width="2.0"/>
<text transform="translate(1092.22,400.40) scale(1.0,1.075)" font-size="28.9" text-anchor="middle" stroke="#000" stroke-width="0.35">0.2</text>
<line x1="1166.3" y1="365.0" x2="1166.3" y2="373.5" stroke="#000" stroke-width="2.0"/>
<line x1="1018.1" y1="247.8" x2="1009.6" y2="247.8" stroke="#000" stroke-width="2.0"/>
<text transform="translate(1166.34,400.40) scale(1.0,1.075)" font-size="28.9" text-anchor="middle" stroke="#000" stroke-width="0.35">0.4</text>
<line x1="1240.5" y1="365.0" x2="1240.5" y2="373.5" stroke="#000" stroke-width="2.0"/>
<line x1="1018.1" y1="189.2" x2="1009.6" y2="189.2" stroke="#000" stroke-width="2.0"/>
<text transform="translate(1240.46,400.40) scale(1.0,1.075)" font-size="28.9" text-anchor="middle" stroke="#000" stroke-width="0.35">0.6</text>
<line x1="1314.6" y1="365.0" x2="1314.6" y2="373.5" stroke="#000" stroke-width="2.0"/>
<line x1="1018.1" y1="130.6" x2="1009.6" y2="130.6" stroke="#000" stroke-width="2.0"/>
<text transform="translate(1314.58,400.40) scale(1.0,1.075)" font-size="28.9" text-anchor="middle" stroke="#000" stroke-width="0.35">0.8</text>
<line x1="1388.7" y1="365.0" x2="1388.7" y2="373.5" stroke="#000" stroke-width="2.0"/>
<line x1="1018.1" y1="72.0" x2="1009.6" y2="72.0" stroke="#000" stroke-width="2.0"/>
<text transform="translate(1388.70,400.40) scale(1.0,1.075)" font-size="28.9" text-anchor="middle" stroke="#000" stroke-width="0.35">1.0</text>
<text transform="translate(1221.93,434.00) scale(1.0,1.04)" font-size="31.6" text-anchor="middle" stroke="#000" stroke-width="0.35">EEGNet score</text>
<text transform="translate(1221.93,34.50) scale(1.0,1.025)" font-size="34.7" text-anchor="middle" stroke="#000" stroke-width="0.35">SSVEP</text>
</g>
<text transform="translate(33.00,204.35) rotate(-90) scale(1.0,1.04)" font-size="31.6" text-anchor="middle" stroke="#000" stroke-width="0.35">RMDM score</text>
<text transform="translate(1496.50,172.00) scale(1.0,0.99)" font-size="31.442" text-anchor="start" stroke="#000" stroke-width="0.35">evaluation</text>
<circle cx="1466" cy="205.6" r="5.85" fill="#1f77b4" fill-opacity="0.75"/>
<path d="M1466,238.6 l8.0,8.0 l-8.0,8.0 l-8.0,-8.0Z" fill="#ff7f0e" fill-opacity="0.75"/>
<rect x="1460.2" y="281.8" width="11.6" height="11.6" rx="1.1" fill="#2ca02c" fill-opacity="0.75"/>
<text transform="translate(1518.00,213.40) scale(1.0,0.99)" font-size="28.9" text-anchor="start" stroke="#000" stroke-width="0.35">within-session</text>
<text transform="translate(1518.00,254.40) scale(1.0,0.99)" font-size="28.9" text-anchor="start" stroke="#000" stroke-width="0.35">cross-session</text>
<text transform="translate(1518.00,295.40) scale(1.0,0.99)" font-size="28.9" text-anchor="start" stroke="#000" stroke-width="0.35">cross-subject</text>
</svg>
</body></html>
